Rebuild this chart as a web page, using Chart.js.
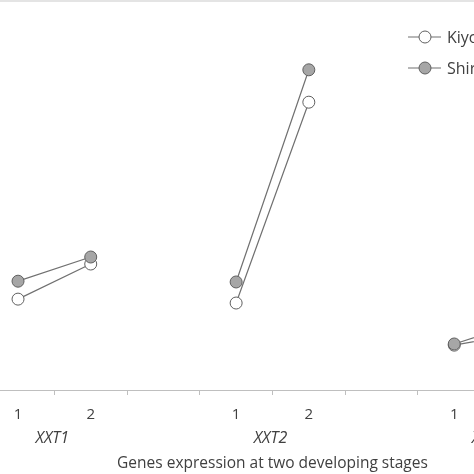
<!DOCTYPE html>
<html>
<head>
<meta charset="utf-8">
<script src="https://cdn.jsdelivr.net/npm/chart.js@4.4.1/dist/chart.umd.min.js"></script>
<style>
html,body{margin:0;padding:0;background:#fff;}
#wrap{position:relative;width:474px;height:474px;overflow:hidden;}
#wrap:before{content:'';position:absolute;left:0;top:0;width:474px;height:2px;background:#e4e4e4;z-index:2;}
</style>
</head>
<body>
<div id="wrap"><canvas id="c"></canvas></div>
<script>
// stage labels per gene, gene names, relative expression (y axis not shown in the crop)
const stages=['1','2'];
const genes=['XXT1','XXT2','XXT3'];
const kiyomi=[2.33,3.23, 2.23,7.38, 1.15,1.49];
const shiranui=[2.79,3.41, 2.77,8.21, 1.18,1.79];
const seriesNames=['Kiyomi','Shiranui'];
const xTitle='Genes expression at two developing stages';

// x position: each gene takes 3 slots (stage 1, stage 2, gap)
function toPoints(vals){
  const pts=[];
  genes.forEach(function(g,gi){
    stages.forEach(function(s,si){pts.push({x:gi*3+si,y:vals[gi*2+si]});});
    if(gi<genes.length-1)pts.push({x:gi*3+2,y:null});
  });
  return pts;
}

const FONT='"Open Sans", sans-serif';
const TXT='#404040';

const legendAndLabels={
  id:'legendAndLabels',
  afterDraw:function(chart){
    const ctx=chart.ctx,xs=chart.scales.x;
    ctx.save();
    // gene names under the stage numbers
    ctx.fillStyle=TXT;
    ctx.textAlign='center';ctx.textBaseline='middle';
    ctx.font='italic 16px '+FONT;
    genes.forEach(function(g,gi){ctx.fillText(g,xs.getPixelForValue(gi*3+0.5)-2,438);});
    // axis title, centred on the full gene range
    ctx.font='15.5px '+FONT;
    ctx.fillText(xTitle,xs.getPixelForValue((genes.length*3-2)/2),464);
    // legend (runs off the right edge like the original)
    ctx.textAlign='left';
    ctx.font='16px '+FONT;
    chart.data.datasets.forEach(function(ds,i){
      const y=37+i*31;
      ctx.strokeStyle=ds.borderColor;ctx.lineWidth=1.2;
      ctx.beginPath();ctx.moveTo(408,y);ctx.lineTo(441,y);ctx.stroke();
      ctx.beginPath();ctx.arc(425,y,6,0,Math.PI*2);
      ctx.fillStyle=ds.pointBackgroundColor;ctx.fill();
      ctx.lineWidth=1;ctx.strokeStyle=ds.pointBorderColor;ctx.stroke();
      ctx.fillStyle=TXT;
      ctx.fillText(ds.label,447,y+1);
    });
    ctx.restore();
  }
};

new Chart(document.getElementById('c'),{
  type:'line',
  data:{datasets:[
    {label:seriesNames[0],data:toPoints(kiyomi),borderColor:'#707070',borderWidth:1.2,
      pointBackgroundColor:'#ffffff',pointBorderColor:'#5f5f5f',pointBorderWidth:1,pointRadius:6,order:2,spanGaps:false},
    {label:seriesNames[1],data:toPoints(shiranui),borderColor:'#707070',borderWidth:1.2,
      pointBackgroundColor:'#a6a6a6',pointBorderColor:'#5f5f5f',pointBorderWidth:1,pointRadius:6,order:1,spanGaps:false}
  ]},
  options:{
    responsive:true,maintainAspectRatio:false,animation:false,
    layout:{padding:0,autoPadding:false},
    plugins:{legend:{display:false},tooltip:{enabled:false}},
    scales:{
      x:{type:'linear',min:-0.248,max:6.272,
        afterBuildTicks:function(s){
          const t=[];
          for(let v=0;v<=6;v++)t.push({value:v});
          s.ticks=t;
        },
        afterFit:function(s){s.height=84;},
        ticks:{autoSkip:false,maxRotation:0,padding:11,color:TXT,font:{family:FONT,size:15},
          callback:function(v){const k=Math.round(v)%3;return k===2?'':stages[k];}},
        grid:{offset:true,drawOnChartArea:false,drawTicks:true,tickLength:5,color:'#bfbfbf'},
        border:{display:true,color:'#bfbfbf',width:1}
      },
      y:{display:false,min:0,max:10}
    }
  },
  plugins:[legendAndLabels]
});
</script>
</body>
</html>
